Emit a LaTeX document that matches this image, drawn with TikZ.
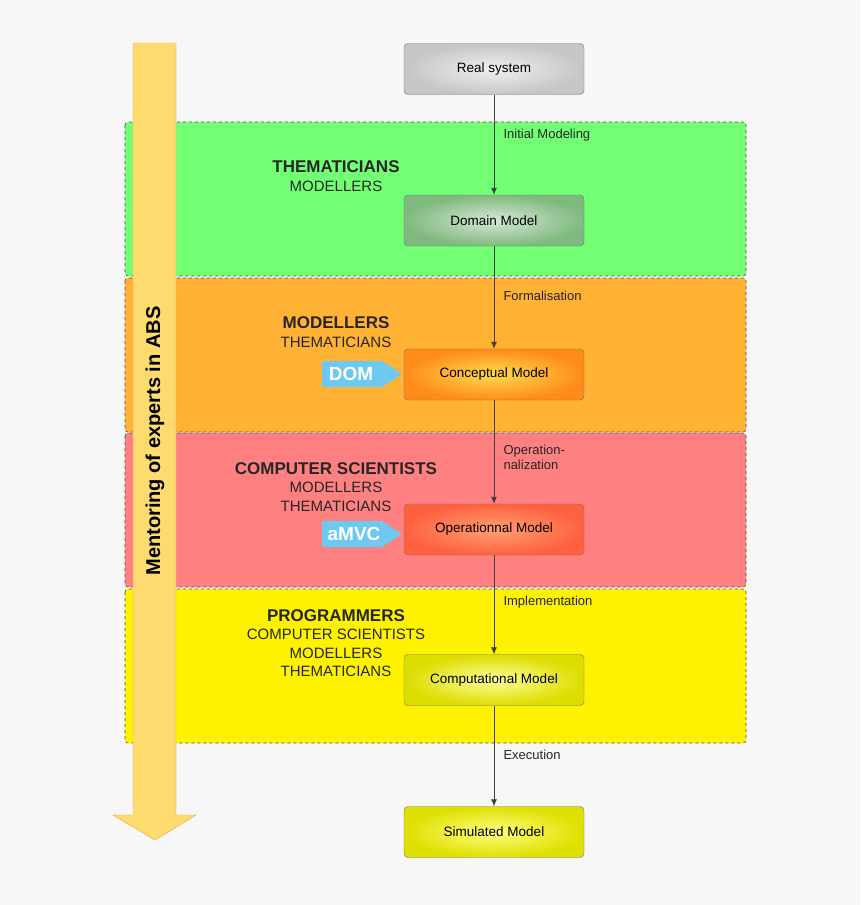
\documentclass[tikz,border=0pt]{standalone}
\usepackage{fontspec}
\setmainfont{Liberation Sans}
\usetikzlibrary{arrows.meta}
\definecolor{tagblue}{HTML}{6CC9F2}
\begin{document}
\begin{tikzpicture}[x=1pt,y=-1pt,
 band/.style={draw=black!70,dashed,rounded corners=3pt,line width=0.6pt},
 box/.style={draw=black!55,rounded corners=4pt,minimum width=180pt,minimum height=51pt,font=\fontsize{13.5}{15}\selectfont,inner sep=0pt},
 lab/.style={font=\fontsize{13}{15}\selectfont,anchor=west,align=left,text=black!85},
 role/.style={align=center,font=\fontsize{15}{18.5}\selectfont,text=black!85},
 flow/.style={draw=black!75,line width=0.8pt,-{Latex[length=7pt,width=6pt]}},
 tagtext/.style={text=white,font=\bfseries\fontsize{19}{21}\selectfont}]
\fill[black!3] (0,0) rectangle (860,905);
\useasboundingbox (0,0) rectangle (860,905);
\draw[band,fill=green!55!white] (125,122) rectangle (746,276);
\draw[band,fill=orange!75!yellow!80!white] (125,278) rectangle (746,432);
\draw[band,fill=red!50!white] (125,433) rectangle (746,587);
\draw[band,fill=yellow] (125,589) rectangle (746,743);
% big arrow
\path[draw=orange!80,fill=yellow!55!orange!55!white] (133,43) -- (176,43) -- (176,815) -- (196,815) -- (155,840) -- (113,815) -- (133,815) -- cycle;
\node[rotate=90,font=\bfseries\fontsize{20}{22}\selectfont] (mentor) at (155,441) {Mentoring of experts in ABS};
% boxes
\node[box,inner color=gray!12,outer color=gray!45] (real) at (494,69) {Real system};
\node[box,inner color=green!25!gray!25,outer color=green!45!black!50] (dom) at (494,220.5) {Domain Model};
\node[box,inner color=orange!40!yellow!70,outer color=orange!90] (con) at (494,374.5) {Conceptual Model};
\node[box,inner color=red!35!orange!55,outer color=red!65!orange!75] (ope) at (494,529.5) {Operationnal Model};
\node[box,inner color=yellow!40!white,outer color=yellow!70!olive!90] (comp) at (494,680) {Computational Model};
\node[box,inner color=yellow!50!white,outer color=yellow!75!olive] (sim) at (494,832) {Simulated Model};
\draw[flow] (real) -- (dom);
\draw[flow] (dom) -- (con);
\draw[flow] (con) -- (ope);
\draw[flow] (ope) -- (comp);
\draw[flow] (comp) -- (sim);
\node[lab] (l1) at (500,135) {Initial Modeling};
\node[lab] (l2) at (500,296) {Formalisation};
\node[lab,font=\fontsize{13}{15}\selectfont] (l3) at (500,457) {Operation-\\nalization};
\node[lab] (l4) at (500,602) {Implementation};
\node[lab] (l5) at (500,755) {Execution};
% roles
\node[role] (r1) at (336,176) {\textbf{\fontsize{17}{18.5}\selectfont THEMATICIANS}\\MODELLERS};
\node[role] (r2) at (336,332) {\textbf{\fontsize{17}{18.5}\selectfont MODELLERS}\\THEMATICIANS};
\node[role] (r3) at (336,487) {\textbf{\fontsize{17}{18.5}\selectfont COMPUTER SCIENTISTS}\\MODELLERS\\THEMATICIANS};
\node[role] (r4) at (336,643) {\textbf{\fontsize{17}{18.5}\selectfont PROGRAMMERS}\\COMPUTER SCIENTISTS\\MODELLERS\\THEMATICIANS};
% tags
\fill[tagblue] (322,361) -- (382,361) -- (402,374) -- (382,387) -- (322,387) -- cycle;
\node[tagtext] (domt) at (351,374) {DOM};
\fill[tagblue] (322,521) -- (382,521) -- (402,534) -- (382,547) -- (322,547) -- cycle;
\node[tagtext] (amvc) at (354,534) {aMVC};
\end{tikzpicture}
\end{document}
